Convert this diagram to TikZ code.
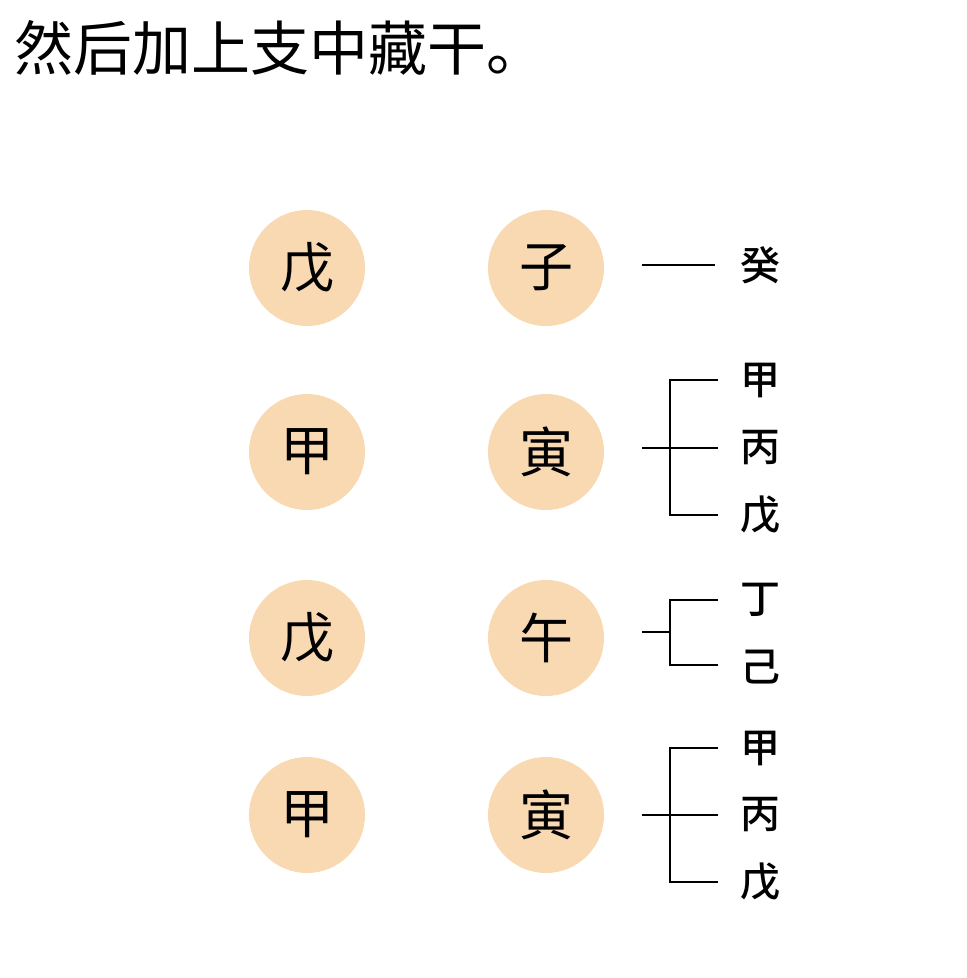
\documentclass[tikz,border=0pt]{standalone}
\usepackage{fontspec}
\newfontfamily\cjk{Noto Sans CJK SC}
\newfontfamily\cjkb{Noto Sans CJK SC Medium}
\begin{document}
\begin{tikzpicture}[x=1pt,y=-1pt,
  ball/.style={circle,fill=peach,minimum size=116pt,inner sep=0,font=\cjk\fontsize{54}{54}\selectfont},
  br/.style={line width=2.6pt,black},
  hid/.style={font=\cjkb\fontsize{40}{40}\selectfont,inner sep=0}]
\definecolor{peach}{HTML}{F9D9B2}
\useasboundingbox (0,0) rectangle (967,978);
\node[anchor=west,font=\cjk\fontsize{59}{59}\selectfont,inner sep=0] (title) at (14,48) {然后加上支中藏干。};
\foreach \n/\y/\a/\b in {1/268/戊/子,2/452/甲/寅,3/638/戊/午,4/815/甲/寅}{
  \node[ball] (s\n) at (307,\y) {\a};
  \node[ball] (b\n) at (546,\y) {\b};
}
\node[hid] (h1) at (760,265) {癸};
\coordinate (r1a) at (642,265); \coordinate (r1b) at (715,265);
\draw[br] (r1a) -- (r1b);
\node[hid] (h2a) at (760,380) {甲};
\node[hid] (h2b) at (760,448) {丙};
\node[hid] (h2c) at (760,515) {戊};
\draw[br] (642,448) -- (670,448) (718,380) -- (670,380) -- (670,515) -- (718,515) (670,448) -- (718,448);
\node[hid] (h3a) at (760,600) {丁};
\node[hid] (h3b) at (760,667) {己};
\draw[br] (642,632) -- (670,632) (718,600) -- (670,600) -- (670,665) -- (718,665);
\node[hid] (h4a) at (760,748) {甲};
\node[hid] (h4b) at (760,815) {丙};
\node[hid] (h4c) at (760,882) {戊};
\draw[br] (642,815) -- (670,815) (718,748) -- (670,748) -- (670,882) -- (718,882) (670,815) -- (718,815);
\end{tikzpicture}
\end{document}
